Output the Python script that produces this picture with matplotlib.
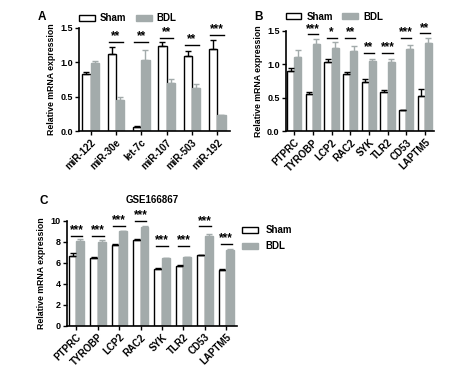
import numpy as np
import matplotlib
matplotlib.use("Agg")
import matplotlib.pyplot as plt

plt.rcParams["font.family"] = ["Liberation Sans", "DejaVu Sans"]
plt.rcParams["font.weight"] = "bold"

# panel A
mirnas = ["miR-122", "miR-30e", "let-7c", "miR-107", "miR-503", "miR-192"]
a_sham = [0.83, 1.12, 0.06, 1.23, 1.09, 1.20]
a_sham_err = [0.03, 0.10, 0.01, 0.07, 0.08, 0.12]
a_bdl = [0.99, 0.45, 1.03, 0.70, 0.62, 0.23]
a_bdl_err = [0.03, 0.05, 0.15, 0.06, 0.07, 0.01]
a_sig = ["", "**", "**", "**", "**", "***"]
a_sig_y = [0, 1.30, 1.30, 1.36, 1.25, 1.40]

# panel B
genes = ["PTPRC", "TYROBP", "LCP2", "RAC2", "SYK", "TLR2", "CD53", "LAPTM5"]
b_sham = [0.90, 0.55, 1.03, 0.86, 0.74, 0.59, 0.31, 0.52]
b_sham_err = [0.04, 0.04, 0.05, 0.02, 0.04, 0.02, 0.01, 0.11]
b_bdl = [1.11, 1.30, 1.25, 1.20, 1.05, 1.03, 1.23, 1.32]
b_bdl_err = [0.11, 0.08, 0.08, 0.08, 0.03, 0.05, 0.06, 0.08]
b_sig = ["", "***", "*", "**", "**", "***", "***", "**"]
b_sig_y = [0, 1.45, 1.40, 1.40, 1.17, 1.17, 1.40, 1.46]

# panel C (GSE166867)
c_sham = [6.7, 6.5, 7.7, 8.2, 5.4, 5.7, 6.75, 5.35]
c_sham_err = [0.2, 0.05, 0.1, 0.05, 0.1, 0.1, 0.05, 0.05]
c_bdl = [8.1, 8.0, 9.0, 9.45, 6.45, 6.55, 8.6, 7.2]
c_bdl_err = [0.15, 0.15, 0.05, 0.1, 0.05, 0.05, 0.15, 0.15]
c_sig = ["***"] * 8
c_sig_y = [8.6, 8.6, 9.55, 10.0, 7.6, 7.6, 9.5, 7.85]

GRAY = "#a3abab"


def bar_panel(ax, labels, sham, sham_err, bdl, bdl_err, sig, sig_y, w, ylim, yticks, fmt):
    x = np.arange(len(labels))
    ax.bar(x - w / 2, sham, w, color="white", edgecolor="black", linewidth=1.0, label="Sham")
    ax.bar(x + w / 2, bdl, w, color=GRAY, edgecolor=GRAY, linewidth=1.0, label="BDL")
    ax.errorbar(x - w / 2, sham, yerr=[np.zeros(len(x)), sham_err], fmt="none",
                ecolor="black", elinewidth=1.0, capsize=2, capthick=1.0)
    ax.errorbar(x + w / 2, bdl, yerr=[np.zeros(len(x)), bdl_err], fmt="none",
                ecolor=GRAY, elinewidth=1.0, capsize=2, capthick=1.0)
    span = ylim[1] - ylim[0]
    for i, s in enumerate(sig):
        if not s:
            continue
        ax.plot([x[i] - 0.27, x[i] + 0.27], [sig_y[i], sig_y[i]], color="black", lw=1.0,
                clip_on=False)
        ax.text(x[i], sig_y[i] - span * 0.005, s, ha="center", va="bottom",
                fontsize=8.5, fontweight="bold")
    ax.set_ylim(*ylim)
    ax.set_yticks(yticks)
    ax.set_yticklabels([fmt.format(v) for v in yticks], fontsize=6.5, fontweight="bold")
    ax.set_xticks(x)
    ax.set_xticklabels(labels, rotation=45, ha="right", rotation_mode="anchor",
                       fontsize=7, fontweight="bold")
    ax.set_xlim(-0.45, len(labels) - 0.5)
    ax.set_ylabel("Relative mRNA expression", fontsize=6.3, fontweight="bold", labelpad=3)
    for s in ["top", "right"]:
        ax.spines[s].set_visible(False)
    for s in ["left", "bottom"]:
        ax.spines[s].set_linewidth(1.2)
    ax.tick_params(width=1.0, length=3, pad=1.5)


fig = plt.figure(figsize=(4.74, 3.67), dpi=100)

ax_a = fig.add_axes([0.167, 0.643, 0.318, 0.281])
bar_panel(ax_a, mirnas, a_sham, a_sham_err, a_bdl, a_bdl_err, a_sig, a_sig_y, 0.33,
          (0, 1.5), [0, 0.5, 1.0, 1.5], "{:.1f}")
ax_a.legend(loc="lower left", bbox_to_anchor=(-0.03, 1.0), ncol=2, frameon=False,
            fontsize=7, handlelength=1.6, handleheight=0.6, columnspacing=1.0,
            borderaxespad=0.1, handletextpad=0.5)

ax_b = fig.add_axes([0.603, 0.643, 0.313, 0.273])
bar_panel(ax_b, genes, b_sham, b_sham_err, b_bdl, b_bdl_err, b_sig, b_sig_y, 0.38,
          (0, 1.5), [0, 0.5, 1.0, 1.5], "{:.1f}")
ax_b.legend(loc="lower left", bbox_to_anchor=(0.0, 1.09), ncol=2, frameon=False,
            fontsize=7, handlelength=1.6, handleheight=0.6, columnspacing=1.0,
            borderaxespad=0.0, borderpad=0.0, handletextpad=0.5)

ax_c = fig.add_axes([0.141, 0.112, 0.359, 0.286])
bar_panel(ax_c, genes, c_sham, c_sham_err, c_bdl, c_bdl_err, c_sig, c_sig_y, 0.36,
          (0, 10), [0, 2, 4, 6, 8, 10], "{:d}")
ax_c.set_title("GSE166867", fontsize=7, fontweight="bold", pad=13)
ax_c.legend(loc="upper left", bbox_to_anchor=(0.98, 1.04), ncol=1, frameon=False,
            fontsize=7, handlelength=1.6, handleheight=0.6, labelspacing=0.6,
            handletextpad=0.8)

fig.text(38 / 474, 1 - 17 / 367, "A", fontsize=8.5, fontweight="bold", va="center")
fig.text(254 / 474, 1 - 17 / 367, "B", fontsize=8.5, fontweight="bold", va="center")
fig.text(40 / 474, 1 - 201 / 367, "C", fontsize=8.5, fontweight="bold", va="center")

fig.savefig("out.png", dpi=100)
